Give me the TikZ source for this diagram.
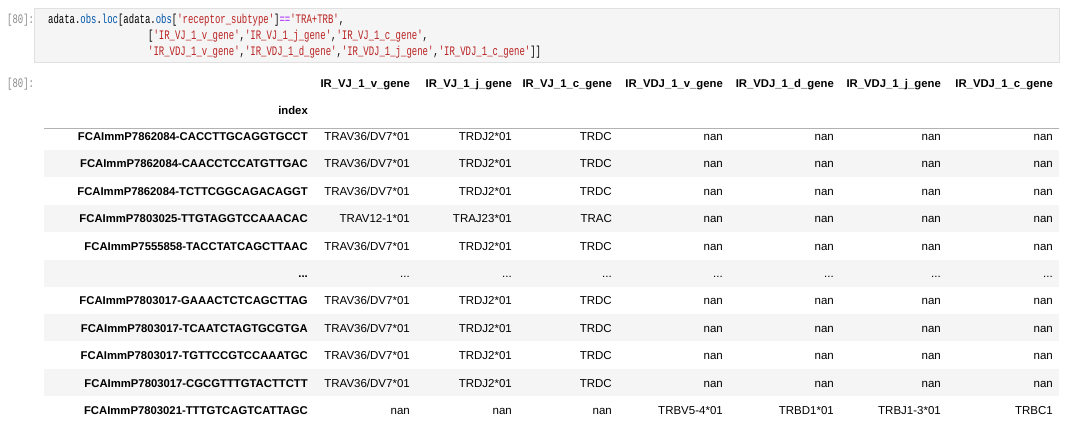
\documentclass[tikz,border=0pt]{standalone}
\usepackage{fontspec}
\setmainfont{Liberation Sans}
\setmonofont{Liberation Mono}
\newcommand\tabrow[9]{%
  \pgfmathsetmacro{\yy}{136+27.4*#1+4.5}%
  \node[hd] (r#1i) at (308,\yy) {#2};
  \node[cell] (r#1a) at (410,\yy) {#3};
  \node[cell] (r#1b) at (512,\yy) {#4};
  \node[cell] (r#1c) at (612,\yy) {#5};
  \node[cell] (r#1d) at (723,\yy) {#6};
  \node[cell] (r#1e) at (834,\yy) {#7};
  \node[cell] (r#1f) at (941,\yy) {#8};
  \node[cell] (r#1g) at (1053,\yy) {#9};
}
\begin{document}
\begin{tikzpicture}[x=1pt,y=-1pt,
  cell/.style={anchor=base east,inner sep=0pt,font=\fontsize{11.5}{14}\selectfont},
  hd/.style={cell,font=\fontsize{11.3}{14}\selectfont\bfseries},
  prm/.style={anchor=base west,inner sep=0pt,text=black!45,xscale=0.69,font=\fontsize{13}{15}\ttfamily},
  code/.style={anchor=base west,inner sep=0pt,xscale=0.69,font=\fontsize{13}{15}\ttfamily}]
\definecolor{cbg}{HTML}{F5F5F5}
\definecolor{cbd}{HTML}{E0E0E0}
\definecolor{str}{HTML}{BA2121}
\definecolor{att}{HTML}{0055AA}
\definecolor{op}{HTML}{AA22FF}
\useasboundingbox (0,0) rectangle (1069,425);
\fill[white] (0,0) rectangle (1069,425);
\draw[fill=cbg,draw=cbd] (34,8) rectangle (1059,62);
\node[prm] (p1) at (7,24) {[80]:};
\node[code] (c1) at (48,24) {adata.\textcolor{att}{obs}.\textcolor{att}{loc}[adata.\textcolor{att}{obs}[\textcolor{str}{'receptor\_subtype'}]\textcolor{op}{==}\textcolor{str}{'TRA+TRB'},};
\node[code] (c2) at (148,40) {[\textcolor{str}{'IR\_VJ\_1\_v\_gene'},\textcolor{str}{'IR\_VJ\_1\_j\_gene'},\textcolor{str}{'IR\_VJ\_1\_c\_gene'},};
\node[code] (c3) at (148,56) {\textcolor{str}{'IR\_VDJ\_1\_v\_gene'},\textcolor{str}{'IR\_VDJ\_1\_d\_gene'},\textcolor{str}{'IR\_VDJ\_1\_j\_gene'},\textcolor{str}{'IR\_VDJ\_1\_c\_gene'}]]};
\node[prm] (p2) at (7,88) {[80]:};
\foreach \r in {1,3,5,7,9}{
  \fill[cbg] (44,{136+27.4*\r-13.5}) rectangle (1059,{136+27.4*\r+13.5});
}
\draw[black!30,line width=0.8] (44,128) -- (1059,128);
\node[hd] (h1) at (410,88) {IR\_VJ\_1\_v\_gene};
\node[hd] (h2) at (512,88) {IR\_VJ\_1\_j\_gene};
\node[hd] (h3) at (612,88) {IR\_VJ\_1\_c\_gene};
\node[hd] (h4) at (723,88) {IR\_VDJ\_1\_v\_gene};
\node[hd] (h5) at (834,88) {IR\_VDJ\_1\_d\_gene};
\node[hd] (h6) at (941,88) {IR\_VDJ\_1\_j\_gene};
\node[hd] (h7) at (1053,88) {IR\_VDJ\_1\_c\_gene};
\node[hd] (hidx) at (308,115) {index};
\tabrow{0}{FCAImmP7862084-CACCTTGCAGGTGCCT}{TRAV36/DV7*01}{TRDJ2*01}{TRDC}{nan}{nan}{nan}{nan}
\tabrow{1}{FCAImmP7862084-CAACCTCCATGTTGAC}{TRAV36/DV7*01}{TRDJ2*01}{TRDC}{nan}{nan}{nan}{nan}
\tabrow{2}{FCAImmP7862084-TCTTCGGCAGACAGGT}{TRAV36/DV7*01}{TRDJ2*01}{TRDC}{nan}{nan}{nan}{nan}
\tabrow{3}{FCAImmP7803025-TTGTAGGTCCAAACAC}{TRAV12-1*01}{TRAJ23*01}{TRAC}{nan}{nan}{nan}{nan}
\tabrow{4}{FCAImmP7555858-TACCTATCAGCTTAAC}{TRAV36/DV7*01}{TRDJ2*01}{TRDC}{nan}{nan}{nan}{nan}
\tabrow{5}{...}{...}{...}{...}{...}{...}{...}{...}
\tabrow{6}{FCAImmP7803017-GAAACTCTCAGCTTAG}{TRAV36/DV7*01}{TRDJ2*01}{TRDC}{nan}{nan}{nan}{nan}
\tabrow{7}{FCAImmP7803017-TCAATCTAGTGCGTGA}{TRAV36/DV7*01}{TRDJ2*01}{TRDC}{nan}{nan}{nan}{nan}
\tabrow{8}{FCAImmP7803017-TGTTCCGTCCAAATGC}{TRAV36/DV7*01}{TRDJ2*01}{TRDC}{nan}{nan}{nan}{nan}
\tabrow{9}{FCAImmP7803017-CGCGTTTGTACTTCTT}{TRAV36/DV7*01}{TRDJ2*01}{TRDC}{nan}{nan}{nan}{nan}
\tabrow{10}{FCAImmP7803021-TTTGTCAGTCATTAGC}{nan}{nan}{nan}{TRBV5-4*01}{TRBD1*01}{TRBJ1-3*01}{TRBC1}
\end{tikzpicture}
\end{document}
